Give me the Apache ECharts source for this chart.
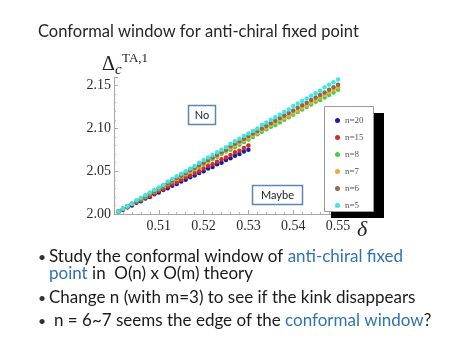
<!DOCTYPE html>
<html>
<head>
<meta charset="utf-8">
<script src="https://cdn.jsdelivr.net/npm/echarts@6/dist/echarts.min.js"></script>
<style>html,body{margin:0;padding:0;background:#fff;}#c{width:474px;height:355px;}</style>
</head>
<body>
<div id="c"></div>
<script>
// delta values (x)
var deltaFull = [0.501,0.502,0.503,0.504,0.505,0.506,0.507,0.508,0.509,0.510,
0.511,0.512,0.513,0.514,0.515,0.516,0.517,0.518,0.519,0.520,
0.521,0.522,0.523,0.524,0.525,0.526,0.527,0.528,0.529,0.530,
0.531,0.532,0.533,0.534,0.535,0.536,0.537,0.538,0.539,0.540,
0.541,0.542,0.543,0.544,0.545,0.546,0.547,0.548,0.549,0.550];
var deltaShort = deltaFull.slice(0, 30);

var n20 = [2.003,2.005,2.008,2.010,2.013,2.015,2.018,2.020,2.023,2.025,
2.028,2.030,2.033,2.035,2.038,2.040,2.043,2.045,2.048,2.050,
2.053,2.055,2.058,2.060,2.063,2.065,2.068,2.070,2.073,2.075];
var n15 = [2.003,2.006,2.008,2.011,2.014,2.016,2.019,2.021,2.024,2.027,
2.029,2.032,2.035,2.037,2.040,2.043,2.045,2.048,2.050,2.053,
2.056,2.058,2.061,2.064,2.066,2.069,2.072,2.074,2.077,2.080];
var n8 = [2.003,2.006,2.009,2.012,2.015,2.017,2.020,2.023,2.026,2.029,
2.032,2.035,2.038,2.041,2.044,2.046,2.049,2.052,2.055,2.058,
2.061,2.064,2.067,2.070,2.073,2.075,2.078,2.081,2.084,2.087,
2.090,2.093,2.096,2.099,2.102,2.104,2.107,2.110,2.113,2.116,
2.119,2.122,2.125,2.128,2.131,2.133,2.136,2.139,2.142,2.145];
var n7 = [2.003,2.006,2.009,2.012,2.015,2.018,2.021,2.024,2.027,2.030,
2.033,2.036,2.039,2.041,2.044,2.047,2.050,2.053,2.056,2.059,
2.062,2.065,2.068,2.071,2.074,2.077,2.080,2.083,2.086,2.089,
2.092,2.095,2.098,2.101,2.104,2.107,2.110,2.112,2.115,2.118,
2.121,2.124,2.127,2.130,2.133,2.136,2.139,2.142,2.145,2.148];
var n6 = [2.003,2.006,2.009,2.012,2.015,2.018,2.021,2.024,2.027,2.030,
2.033,2.036,2.039,2.042,2.045,2.048,2.051,2.054,2.057,2.060,
2.063,2.066,2.069,2.072,2.075,2.079,2.082,2.085,2.088,2.091,
2.094,2.097,2.100,2.103,2.106,2.109,2.112,2.115,2.118,2.121,
2.124,2.127,2.130,2.133,2.136,2.139,2.142,2.145,2.148,2.151];
var n5 = [2.003,2.006,2.009,2.012,2.016,2.019,2.022,2.025,2.028,2.031,
2.034,2.038,2.041,2.044,2.047,2.050,2.053,2.056,2.060,2.063,
2.066,2.069,2.072,2.075,2.078,2.082,2.085,2.088,2.091,2.094,
2.097,2.100,2.104,2.107,2.110,2.113,2.116,2.119,2.122,2.126,
2.129,2.132,2.135,2.138,2.141,2.144,2.148,2.151,2.154,2.157];

var seriesNames = ['n=20','n=15','n=8','n=7','n=6','n=5'];
var seriesColors = ['#1c1c9c','#d42a2a','#3fd23f','#f4a446','#8a6a48','#3ee6e6'];
var seriesData = [[deltaShort,n20],[deltaShort,n15],[deltaFull,n8],[deltaFull,n7],[deltaFull,n6],[deltaFull,n5]];

function pairs(xs, ys){ return ys.map(function(v,i){ return [xs[i], v]; }); }

var serif = '"Liberation Serif","DejaVu Serif",serif';
var sans = 'Lato,"Open Sans",sans-serif';
var blue = '#2f73b3';
var bf = '17px ' + sans;

var chart = echarts.init(document.getElementById('c'), null, {renderer:'canvas'});
var option = {
  animation: false,
  backgroundColor: '#fff',
  grid: {left: 114, width: 233, top: 77, height: 137},
  xAxis: {
    type: 'value', min: 0.50, max: 0.552, interval: 0.01,
    axisLine: {lineStyle: {color: '#a8a8a8', width: 1}},
    axisTick: {inside: true, length: 4, lineStyle: {color: '#a8a8a8'}},
    minorTick: {show: true, splitNumber: 5, length: 2, lineStyle: {color: '#b8b8b8'}},
    splitLine: {show: false},
    axisLabel: {fontFamily: serif, fontSize: 14, color: '#2a2a2a', margin: 5,
      formatter: function(v){ return v < 0.505 ? '' : v.toFixed(2); }}
  },
  yAxis: {
    type: 'value', min: 2.00, max: 2.16, interval: 0.05,
    axisLine: {show: true, lineStyle: {color: '#a8a8a8', width: 1}},
    axisTick: {show: true, inside: true, length: 4, lineStyle: {color: '#a8a8a8'}},
    minorTick: {show: true, splitNumber: 5, length: 2, lineStyle: {color: '#b8b8b8'}},
    splitLine: {show: false},
    axisLabel: {fontFamily: serif, fontSize: 14, color: '#2a2a2a', margin: 3,
      formatter: function(v){ return v.toFixed(2); }}
  },
  legend: {
    orient: 'vertical', left: 330, top: 111, z: 20,
    itemWidth: 5, itemHeight: 5, itemGap: 8,
    icon: 'circle',
    textStyle: {fontFamily: serif, fontSize: 9, color: '#555'},
    data: seriesNames
  },
  series: seriesNames.map(function(nm, i){
    return {
      name: nm, type: 'scatter', symbol: 'circle', symbolSize: 4.5,
      itemStyle: {color: seriesColors[i], opacity: 1},
      data: pairs(seriesData[i][0], seriesData[i][1]),
      z: 5 + i
    };
  }),
  graphic: [
    {type:'text', left: 38, top: 23, style:{text:'Conformal window for anti-chiral fixed point', font:'16.5px ' + sans, fill:'#262626'}},
    // y axis name
    {type:'text', left: 102, top: 55, style:{text:'\u0394', font:'20px ' + serif, fill:'#222'}},
    {type:'text', left: 115, top: 63, style:{text:'c', font:'italic 15px ' + serif, fill:'#222'}},
    {type:'text', left: 122, top: 52, style:{text:'TA,1', font:'13px ' + serif, fill:'#222'}},
    // delta label
    {type:'text', left: 357, top: 219, style:{text:'\u03b4', font:'italic 22px ' + serif, fill:'#222'}},
    // No / Maybe boxes
    {type:'rect', shape:{x:188.5, y:105.5, width:27, height:19}, style:{fill:'#fff', stroke:'#5b86b2', lineWidth:1.5}, z: 30},
    {type:'text', x: 202, y: 115, style:{text:'No', font:'11px ' + sans, fill:'#222', align:'center', verticalAlign:'middle'}, z: 31},
    {type:'rect', shape:{x:252.5, y:185.5, width:50, height:19}, style:{fill:'#fff', stroke:'#5b86b2', lineWidth:1.5}, z: 30},
    {type:'text', x: 277.5, y: 195, style:{text:'Maybe', font:'11px ' + sans, fill:'#222', align:'center', verticalAlign:'middle'}, z: 31},
    // legend box with shadow
    {type:'rect', shape:{x:331, y:113, width:53, height:105}, style:{fill:'#000'}, z: 15},
    {type:'rect', shape:{x:324.5, y:106.5, width:49, height:105}, style:{fill:'#fff', stroke:'#9a9a9a', lineWidth:1}, z: 16},
    // bullets
    {type:'text', left: 38, top: 250, style:{text:'\u2022', font:'14px ' + sans, fill:'#333'}},
    {type:'text', left: 49, top: 248, style:{text:'{k|Study the conformal window of }{b|anti-chiral fixed}', font:bf,
      rich:{k:{fill:'#1a1a1a', font:bf}, b:{fill:blue, font:bf}}}},
    {type:'text', left: 49, top: 265, style:{text:'{b|point}{k| in  O(n) x O(m) theory}', font:bf,
      rich:{k:{fill:'#1a1a1a', font:bf}, b:{fill:blue, font:bf}}}},
    {type:'text', left: 38, top: 291, style:{text:'\u2022', font:'14px ' + sans, fill:'#333'}},
    {type:'text', left: 49, top: 289, style:{text:'Change n (with m=3) to see if the kink disappears', font:bf, fill:'#1a1a1a'}},
    {type:'text', left: 38, top: 314, style:{text:'\u2022', font:'14px ' + sans, fill:'#333'}},
    {type:'text', left: 54, top: 312, style:{text:'{k|n = 6~7 seems the edge of the }{b|conformal window}{k|?}', font:bf,
      rich:{k:{fill:'#1a1a1a', font:bf}, b:{fill:blue, font:bf}}}}
  ]
};
chart.setOption(option);
</script>
</body>
</html>
